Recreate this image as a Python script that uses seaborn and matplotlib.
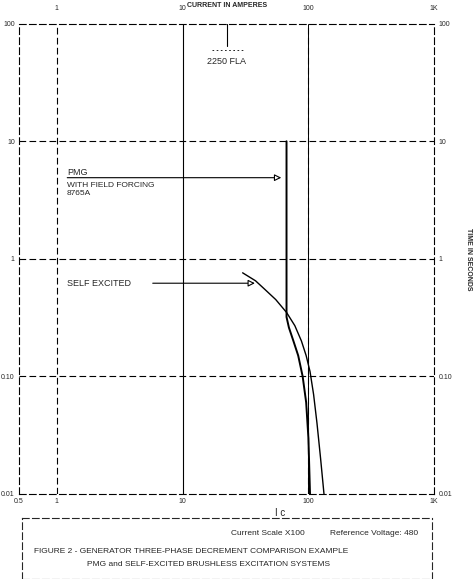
import matplotlib
matplotlib.use("Agg")
import matplotlib.pyplot as plt
import seaborn as sns
import pandas as pd

sns.set_style("white")
plt.rcParams['font.family'] = ['Liberation Sans', 'DejaVu Sans']

pmg_current = [67, 67, 70, 76, 83, 90, 96, 100, 103]
pmg_time = [10, 0.32, 0.26, 0.20, 0.15, 0.10, 0.06, 0.03, 0.01]
se_current = [30, 38, 45, 55, 67, 78, 88, 96, 103, 110, 117, 125, 133]
se_time = [0.76, 0.65, 0.55, 0.45, 0.35, 0.27, 0.20, 0.15, 0.11, 0.07, 0.04, 0.02, 0.01]
x_ticks = [0.5, 1, 10, 100, 1000]
x_labels = ["0.5", "1", "10", "100", "1K"]
top_ticks = [1, 10, 100, 1000]
top_labels = ["1", "10", "100", "1K"]
y_ticks = [0.01, 0.1, 1, 10, 100]
y_labels = ["0.01", "0.10", "1", "10", "100"]

fig = plt.figure(figsize=(4.74, 5.79), dpi=100)
ax = fig.add_axes([0.040, 0.147, 0.876, 0.812])
ax.set_xscale("log"); ax.set_yscale("log")
ax.set_xlim(0.5, 1000); ax.set_ylim(0.01, 100)

df1 = pd.DataFrame({"c": pmg_current, "t": pmg_time})
df2 = pd.DataFrame({"c": se_current, "t": se_time})
sns.lineplot(data=df1, x="c", y="t", ax=ax, color="black", lw=1.4, sort=False, estimator=None)
sns.lineplot(data=df2, x="c", y="t", ax=ax, color="black", lw=1.0, sort=False, estimator=None)

for v in [1, 100]:
    ax.axvline(v, color="black", lw=0.8, ls=(0, (6, 3)))
ax.axvline(10, color="black", lw=0.8)
for v in [0.1, 1, 10]:
    ax.axhline(v, color="black", lw=0.8, ls=(0, (6, 3)))
ax.axvline(100, color="black", lw=0.7)
for s in ax.spines.values():
    s.set_linestyle((0, (6, 3))); s.set_linewidth(0.8); s.set_color("black")

ax.set_xticks(x_ticks); ax.set_xticklabels(x_labels, fontsize=5)
ax.set_yticks(y_ticks); ax.set_yticklabels(y_labels, fontsize=5)
ax.minorticks_off()
ax.tick_params(length=0, pad=3, labelright=True)
ax.set_xlabel(""); ax.set_ylabel("")
for t, l in zip(top_ticks, top_labels):
    ax.text(t, 125, l, ha="center", va="bottom", fontsize=5)
ax.text(0.5, 1.035, "CURRENT IN AMPERES", transform=ax.transAxes, ha="center", fontsize=5, fontweight="bold")
ax.text(1.075, 0.5, "TIME IN SECONDS", transform=ax.transAxes, rotation=270, va="center", fontsize=5, fontweight="bold")

ax.plot([22.5, 22.5], [100, 65], color="black", lw=0.8)
ax.plot([17, 30], [60, 60], color="black", lw=0.6, ls=(0, (2, 3)))
ax.text(22.5, 45, "2250 FLA", ha="center", fontsize=6.5)

ax.annotate("", xy=(64, 4.9), xytext=(1.15, 4.9),
            arrowprops=dict(arrowstyle="-|>", color="black", lw=0.8, fc="white"))
ax.text(1.2, 5.2, "PMG", fontsize=6.5)
ax.text(1.2, 4.5, "WITH FIELD FORCING\n8765A", fontsize=6, va="top", linespacing=1.1)
ax.annotate("", xy=(39.5, 0.62), xytext=(5.5, 0.62),
            arrowprops=dict(arrowstyle="-|>", color="black", lw=0.8, fc="white"))
ax.text(1.2, 0.62, "SELF EXCITED", fontsize=6.5, va="center")
ax.text(60, 0.0065, "I c", fontsize=7, ha="center")

box = fig.add_axes([0.046, 0.0, 0.866, 0.105])
box.set_xticks([]); box.set_yticks([])
for s in box.spines.values():
    s.set_linestyle((0, (6, 3))); s.set_linewidth(0.8)
box.text(0.6, 0.72, "Current Scale X100", fontsize=6, ha="center")
box.text(0.965, 0.72, "Reference Voltage: 480", fontsize=6, ha="right")
box.text(0.03, 0.42, "FIGURE 2 - GENERATOR THREE-PHASE DECREMENT COMPARISON EXAMPLE", fontsize=6)
box.text(0.16, 0.22, "PMG and SELF-EXCITED BRUSHLESS EXCITATION SYSTEMS", fontsize=6)

fig.savefig("out.png", dpi=100)
